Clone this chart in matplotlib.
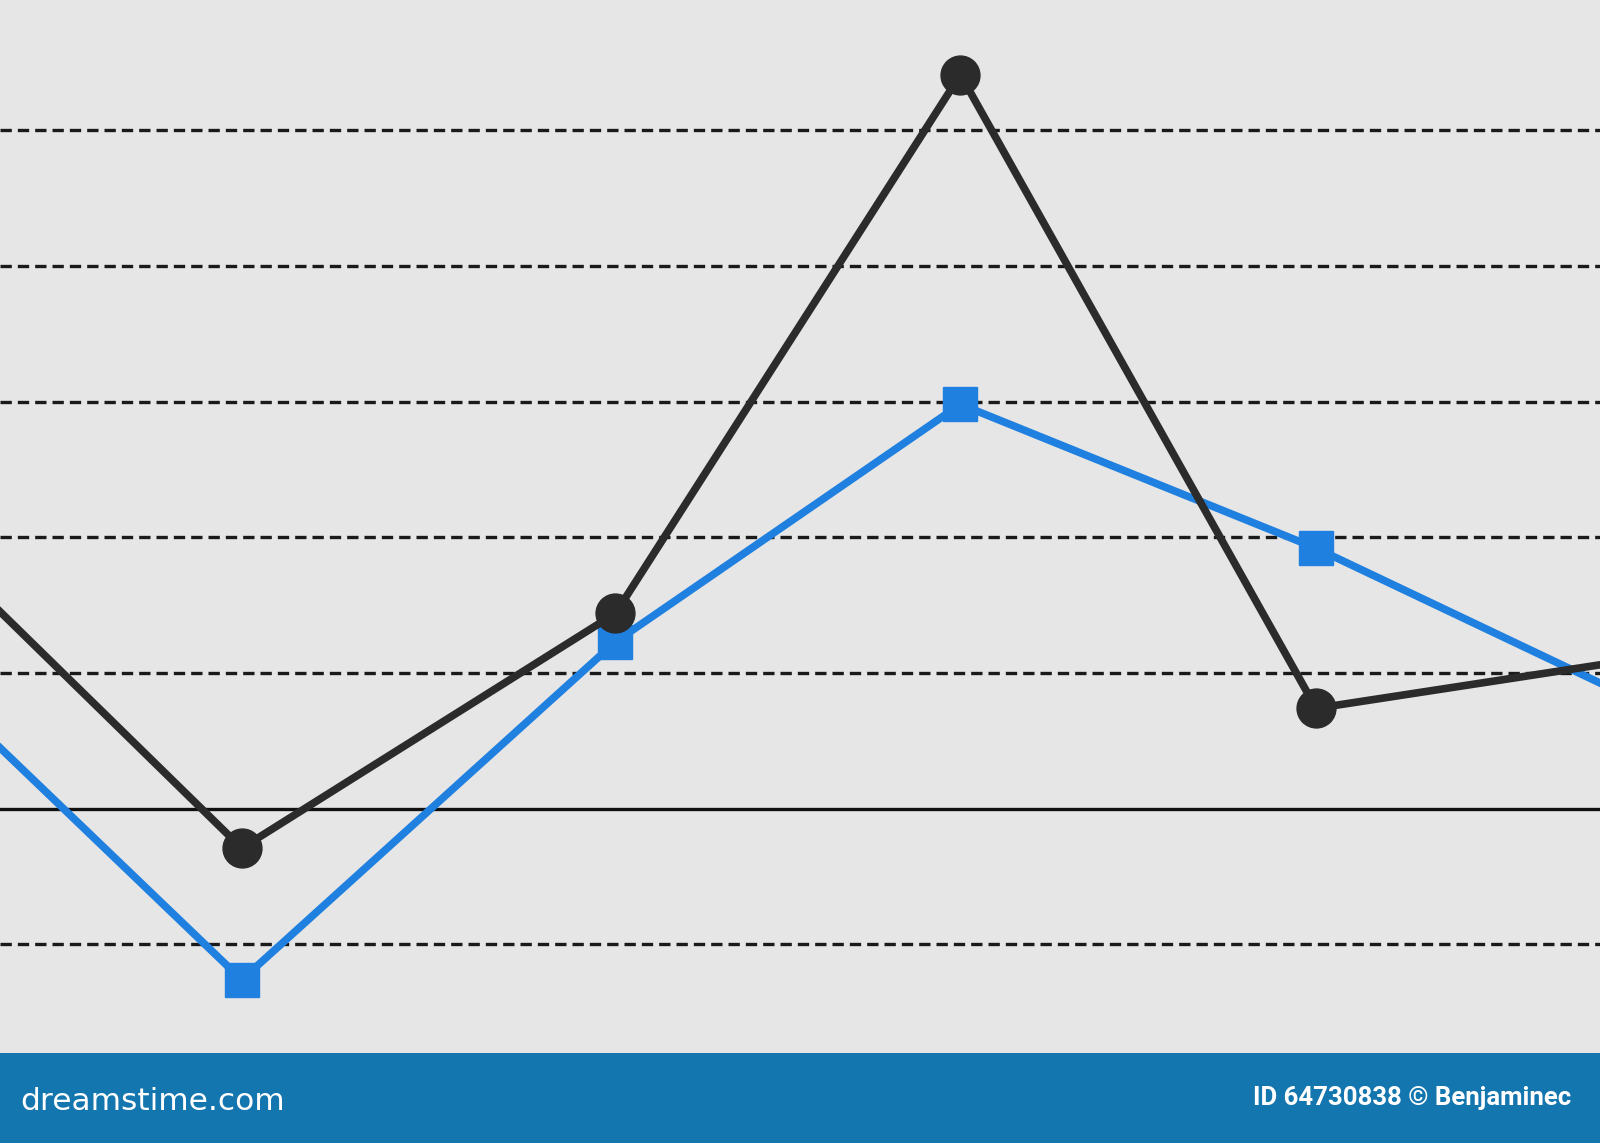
import matplotlib
matplotlib.use("Agg")
import matplotlib.pyplot as plt

# data (points at -1 and 4 lie outside the visible window)
x = [-1, 0, 1.04, 2.0, 2.99, 4]
black_vals = [2.3, -0.29, 1.44, 5.41, 0.74, 1.15]
blue_vals = [1.28, -1.26, 1.23, 2.98, 1.92, 0.65]
grid_levels = [-1, 1, 2, 3, 4, 5]

fig = plt.figure(figsize=(16, 11.43), dpi=100)
fig.patch.set_facecolor("#e6e6e6")

ax = fig.add_axes([0, 90 / 1143, 1, 1053 / 1143])
ax.set_facecolor("#e6e6e6")

for g in grid_levels:
    ax.axhline(g, color="#1a1a1a", lw=2.4, dashes=(3.4, 1.8), zorder=1)
ax.axhline(0, color="#111111", lw=2.4, zorder=1)

ax.plot(x, blue_vals, color="#1f80e0", lw=5.5, marker="s", ms=25,
        mfc="#1f80e0", mec="#1f80e0", zorder=3, solid_joinstyle="miter")
ax.plot(x, black_vals, color="#2b2b2b", lw=5.5, marker="o", ms=28,
        mfc="#2b2b2b", mec="#2b2b2b", zorder=4)

ax.set_xlim(-0.673, 3.78)
ax.set_ylim(-1.80, 5.96)
ax.axis("off")

# bottom banner
banner = fig.add_axes([0, 0, 1, 90 / 1143])
banner.set_facecolor("#1476ae")
banner.set_xticks([])
banner.set_yticks([])
for s in banner.spines.values():
    s.set_visible(False)
banner.set_xlim(0, 1600)
banner.set_ylim(0, 90)
banner.text(20, 42, "dreamstime.com", color="white", fontsize=22.5,
            family="DejaVu Sans", va="center", ha="left")
banner.text(1571, 45, "ID 64730838 © Benjaminec", color="white", fontsize=18.5,
            family="Roboto", weight="bold", va="center", ha="right")

fig.savefig("out.png", dpi=100)
